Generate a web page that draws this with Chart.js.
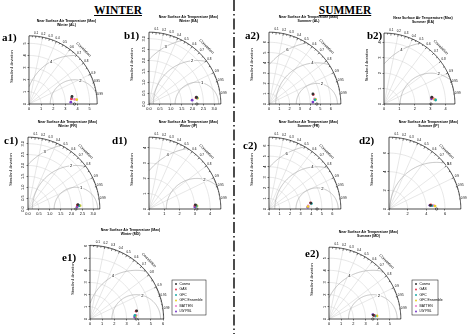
<!DOCTYPE html>
<html><head><meta charset="utf-8">
<script src="https://cdn.jsdelivr.net/npm/chart.js@4/dist/chart.umd.min.js"></script>
<style>
body{margin:0;width:474px;height:334px;background:#fff;position:relative;overflow:hidden}
canvas{position:absolute}
.hdr{position:absolute;font-family:"Liberation Serif","Times New Roman",serif;font-weight:bold;text-decoration:underline;font-size:11.5px;color:#000;transform:translate(-50%,-50%);white-space:nowrap}
.tag{position:absolute;font-family:"Liberation Serif","Times New Roman",serif;font-weight:bold;font-size:11px;color:#000;transform:translateY(-50%)}
svg{position:absolute;left:0;top:0}
</style></head><body>
<div class="hdr" style="left:118px;top:10px">WINTER</div>
<div class="hdr" style="left:345px;top:10px">SUMMER</div>
<svg width="474" height="334"><line x1="234" y1="0" x2="234" y2="334" stroke="#000" stroke-width="1.4" stroke-dasharray="11,3,1.5,3"/></svg>
<script>
// ---------- data ----------
const models = ["Cosmo","GAS","GFC","GFC Ensemble","BATTEN","LW PBL"];
const panelTags = ["a1)","b1)","a2)","b2)","c1)","d1)","c2)","d2)","e1)","e2)"];
const subTitles = ["Winter (AL)","Winter (EA)","Summer (AL)","Summer (EA)","Winter (FR)","Winter (IP)","Summer (FR)","Summer (IP)","Winter (MD)","Summer (MD)"];
const mainTitle = "Near Surface Air Temperature (Max)";
const refSD   = [3.75, 2.2, 4.65, 3.05, 2.2, 3.13, 4.55, 5.1, 3.8, 3.6];
const axisMax = [5.62, 3.3, 6.98, 4.6, 3.3, 4.7, 6.8, 7.7, 6.05, 5.9];
const tickStep = [1, 0.5, 1, 1, 0.5, 1, 1, 2, 1, 1];
const rmsLevels = [[2,4],[1,2,3],[2,4,6],[2,4],[1,2,3],[2,4],[2,4,6],[5],[2,4],[2,4]];
const corrLabels = [0.1,0.2,0.3,0.4,0.5,0.6,0.7,0.8,0.9,0.95,0.99];

const sdA1 = [3.60, 3.52, 3.56, 3.95, 3.78, 3.45], corA1 = [0.985, 0.993, 0.990, 0.996, 0.995, 0.999];
const sdB1 = [2.20, 2.18, 2.22, 2.24, 2.21, 1.99], corB1 = [0.990, 0.991, 0.992, 0.993, 0.992, 0.996];
const sdA2 = [4.38, 4.40, 4.49, 4.55, 4.45, 4.27], corA2 = [0.975, 0.978, 0.996, 0.995, 0.994, 0.999];
const sdB2 = [3.13, 3.15, 3.36, 3.30, 3.25, 3.10], corB2 = [0.990, 0.991, 0.997, 0.996, 0.995, 0.994];
const sdC1 = [2.30, 2.28, 2.35, 2.40, 2.32, 2.26], corC1 = [0.996, 0.997, 0.998, 0.998, 0.997, 0.999];
const sdD1 = [3.05, 3.02, 3.10, 3.15, 3.08, 3.00], corD1 = [0.996, 0.997, 0.998, 0.998, 0.997, 0.999];
const sdC2 = [4.00, 3.98, 4.05, 3.70, 3.72, 3.68], corC2 = [0.990, 0.989, 0.992, 0.998, 0.997, 0.999];
const sdD2 = [4.45, 4.50, 4.60, 4.95, 4.80, 4.40], corD2 = [0.996, 0.995, 0.997, 0.998, 0.997, 0.996];
const sdE1 = [3.89, 3.85, 3.70, 3.75, 3.80, 3.67], corE1 = [0.985, 0.986, 0.997, 0.998, 0.997, 0.999];
const sdE2 = [3.65, 3.70, 3.80, 3.95, 3.75, 3.62], corE2 = [0.996, 0.997, 0.998, 0.998, 0.997, 0.995];
const sdAll  = [sdA1, sdB1, sdA2, sdB2, sdC1, sdD1, sdC2, sdD2, sdE1, sdE2];
const corAll = [corA1, corB1, corA2, corB2, corC1, corD1, corC2, corD2, corE1, corE2];

// ---------- styles / layout ----------
const modelColors = ["#333333","#e8364f","#20a8a8","#e8cf2a","#f27ac8","#7a3cc8"];
const origins = [[29,104],[149,104],[269,104],[384,104],[28,209],[149,209],[269,209],[389,209],[90,319],[329,319]];
const pxPerUnit = [12.2, 21.7, 10.3, 15.5, 21.7, 15.3, 10.6, 9.35, 12.1, 12.1];
const tagPos = [[2,37],[124,35],[245,35],[367,35],[4,140],[112,140],[243,145],[359,140],[62,257],[305,253]];
const legendBox = {8:[82,-39,34,35], 9:[83,-39,26,35]};

const FONT = '"Liberation Sans", Arial, sans-serif';

function poly(ctx, P, pts){
  ctx.beginPath();
  pts.forEach((q,i)=>{const [x,y]=P(q[0],q[1]); if(i) ctx.lineTo(x,y); else ctx.moveTo(x,y);});
  ctx.stroke();
}

const taylorPlugin = {
  id:'taylor',
  beforeDatasetsDraw(chart){
    const o = chart.options.plugins.taylor;
    const M = o.max, xs = chart.scales.x, ys = chart.scales.y, ctx = chart.ctx;
    const P = (x,y)=>[xs.getPixelForValue(x), ys.getPixelForValue(y)];
    ctx.save();
    ctx.lineWidth = 0.5;
    ctx.strokeStyle = '#cfcfcf';
    o.ticks.forEach(t=>{
      if (t<=0 || t>=M) return;
      const pts=[]; for(let a=0;a<=90;a+=1.5){const r=a*Math.PI/180; pts.push([t*Math.cos(r),t*Math.sin(r)]);}
      poly(ctx,P,pts);
    });
    [0.2,0.4,0.6,0.8,0.9].forEach(c=>poly(ctx,P,[[0,0],[M*c,M*Math.sqrt(1-c*c)]]));
    ctx.strokeStyle = '#a0a0a0'; ctx.lineWidth = 0.6;
    o.rms.forEach(g=>{
      const pts=[];
      for(let a=0;a<=180;a+=1){const r=a*Math.PI/180; const x=o.ref+g*Math.cos(r), y=g*Math.sin(r); if(x>=0 && x*x+y*y<=M*M) pts.push([x,y]);}
      if (pts.length>1) poly(ctx,P,pts);
    });
    ctx.strokeStyle = '#000'; ctx.lineWidth = 0.7;
    const outer=[]; for(let a=0;a<=90;a+=1){const r=a*Math.PI/180; outer.push([M*Math.cos(r),M*Math.sin(r)]);}
    poly(ctx,P,outer);
    poly(ctx,P,[[0,0],[M,0]]); poly(ctx,P,[[0,0],[0,M]]);
    ctx.lineWidth = 0.5;
    const tk=(c,f)=>{const s=Math.sqrt(1-c*c); poly(ctx,P,[[M*c,M*s],[M*f*c,M*f*s]]);};
    for(let c=0.1;c<0.95;c+=0.1) tk(c,0.97);
    for(let c=0.05;c<1;c+=0.1) tk(c,0.98);
    for(let c=0.91;c<1;c+=0.01) tk(c,0.99);
    const n=o.rms.length;
    o.rms.forEach((g,k)=>{
      const lp = n===1?45:Math.floor(45+k*(25/(n-1)));
      const ang=(lp-1)*0.03; const x=o.ref+g*Math.cos(ang), y=g*Math.sin(ang);
      if (x<=0) return;
      const [px,py]=P(x,y);
      ctx.font = '4.2px '+FONT; ctx.textAlign='center'; ctx.textBaseline='middle';
      const w=ctx.measureText(String(g)).width+1.5;
      ctx.fillStyle='#fff'; ctx.fillRect(px-w/2,py-2.5,w,5);
      ctx.fillStyle='#000'; ctx.fillText(String(g),px,py);
    });
    ctx.font = '3px '+FONT; ctx.fillStyle='#000'; ctx.textAlign='center'; ctx.textBaseline='middle';
    corrLabels.forEach(c=>{const s=Math.sqrt(1-c*c); const [px,py]=P(1.05*M*c,1.05*M*s); ctx.fillText(String(c),px,py);});
    const [cx,cy]=P(0.8*M,0.8*M);
    ctx.save(); ctx.translate(cx,cy); ctx.rotate(Math.PI/4); ctx.font='3.9px '+FONT; ctx.fillText('Correlation',0,0); ctx.restore();
    const [rx,ry]=P(o.ref,0);
    ctx.beginPath(); ctx.arc(rx,ry,1.2,0,2*Math.PI); ctx.strokeStyle='#000'; ctx.lineWidth=0.5; ctx.stroke();
    ctx.restore();
  },
  afterDraw(chart){
    const o = chart.options.plugins.taylor, ctx=chart.ctx, ca=chart.chartArea;
    ctx.save();
    ctx.fillStyle='#000'; ctx.textAlign='center'; ctx.textBaseline='middle';
    ctx.font='bold 3.5px '+FONT;
    const cx=(ca.left+ca.right)/2;
    ctx.fillText(o.title[0],cx,ca.top-8);
    ctx.fillText(o.title[1],cx,ca.top-3.5);
    if (o.legend){
      const [lx,ly,lw,lh]=o.legend;
      const x0=ca.left+lx, y0=ca.bottom+ly;
      ctx.strokeStyle='#000'; ctx.lineWidth=0.5; ctx.strokeRect(x0,y0,lw,lh);
      ctx.font='3.4px '+FONT; ctx.textAlign='left';
      chart.data.datasets.forEach((d,i)=>{
        const yy=y0+4+i*5.5;
        ctx.fillStyle=d.backgroundColor; ctx.beginPath(); ctx.arc(x0+4,yy,1,0,2*Math.PI); ctx.fill();
        ctx.fillStyle='#000'; ctx.fillText(d.label,x0+7.5,yy);
      });
    }
    ctx.restore();
  }
};

const fmt = step => v => step<1 ? v.toFixed(1) : String(v);

for (let i=0;i<10;i++){
  const [ox,oy]=origins[i], ppu=pxPerUnit[i], M=axisMax[i], step=tickStep[i];
  const ext=1.1*M, plot=Math.round(ext*ppu);
  const padL=1, yW=20, padT=24, padR=(i>=8?50:6), xH=9, padB=1;
  const W=padL+yW+plot+padR, H=padT+plot+xH+padB;
  const cv=document.createElement('canvas');
  cv.width=W; cv.height=H;
  cv.style.left=(ox-yW-padL)+'px'; cv.style.top=(oy-plot-padT)+'px';
  cv.style.width=W+'px'; cv.style.height=H+'px';
  document.body.appendChild(cv);
  const tickVals=[]; for(let t=0;t<=M+1e-9;t+=step) tickVals.push(+t.toFixed(3));
  const datasets = models.map((m,k)=>{
    const s=sdAll[i][k], c=corAll[i][k];
    return {label:m, data:[{x:s*c, y:s*Math.sqrt(1-c*c)}], backgroundColor:modelColors[k], borderColor:modelColors[k], pointRadius:1.4, pointBorderWidth:0};
  });
  const axisCommon = {
    type:'linear', min:0, max:ext,
    afterBuildTicks:s=>{s.ticks=tickVals.map(v=>({value:v}));},
    grid:{drawOnChartArea:false, drawTicks:true, tickLength:1.5, color:'#000', lineWidth:0.5},
    border:{display:false},
  };
  new Chart(cv,{
    type:'scatter',
    data:{datasets},
    options:{
      responsive:false, animation:false, devicePixelRatio:1, events:[],
      layout:{padding:{left:padL,right:padR,top:padT,bottom:padB}},
      scales:{
        x:{...axisCommon, afterFit:s=>{s.height=xH;},
           ticks:{color:'#000',font:{size:3.9,family:FONT},padding:1,maxRotation:0,autoSkip:false,callback:fmt(step)}},
        y:{...axisCommon, afterFit:s=>{s.width=yW;},
           ticks:{color:'#000',font:{size:3.9,family:FONT},padding:1,minRotation:90,maxRotation:90,crossAlign:'center',autoSkip:false,callback:fmt(step)},
           title:{display:true,text:'Standard deviation',color:'#000',font:{size:3.9,family:FONT},padding:{top:1,bottom:0}}}
      },
      plugins:{legend:{display:false},tooltip:{enabled:false},
        taylor:{max:M, ref:refSD[i], ticks:tickVals, rms:rmsLevels[i], title:[mainTitle,subTitles[i]], legend:legendBox[i]||null}}
    },
    plugins:[taylorPlugin]
  });
  const tg=document.createElement('div'); tg.className='tag'; tg.textContent=panelTags[i];
  tg.style.left=tagPos[i][0]+'px'; tg.style.top=tagPos[i][1]+'px';
  document.body.appendChild(tg);
}
</script>
</body></html>
